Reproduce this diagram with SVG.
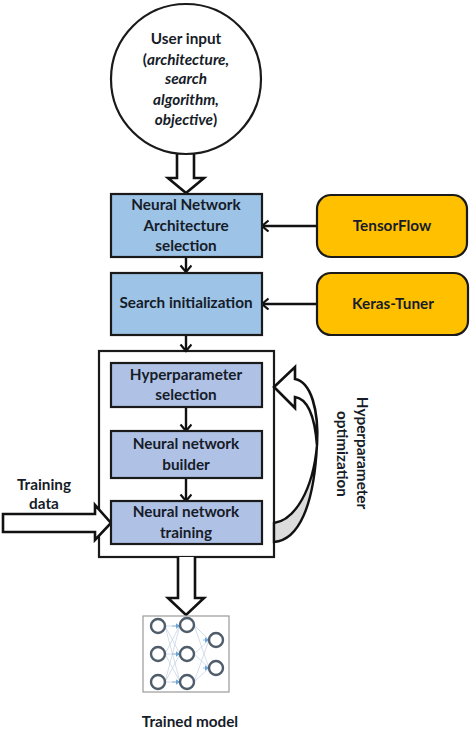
<svg xmlns="http://www.w3.org/2000/svg" width="474" height="737" viewBox="0 0 474 737">
<style>
text{font-family:"Lato","Liberation Sans",sans-serif;font-weight:700;font-size:15.3px;fill:#161c28;text-anchor:middle}
.i{font-style:italic}
.b{stroke:#1a1a1a;stroke-width:2.2}
.a{fill:#9dc3e6}
.h{fill:#b0c1e6}
.y{fill:#ffc000;stroke:#1a1a1a;stroke-width:2.2}
.l{fill:none;stroke:#111;stroke-width:2.4}
.e{fill:#fff;stroke:#111;stroke-width:2.6}
.n{fill:none;stroke:#4f5d6b;stroke-width:2.4}
.w{fill:none;stroke:#c9d6e6;stroke-width:.8}
</style>
<defs>
<marker id="o" markerWidth="12" markerHeight="14" refX="9.5" refY="6" orient="auto" markerUnits="userSpaceOnUse"><path d="M3,0.5L9.5,6L3,11.5" fill="none" stroke="#111" stroke-width="2.2"/></marker>
<marker id="s" markerWidth="5" markerHeight="7" refX="4.5" refY="3" orient="auto" markerUnits="userSpaceOnUse"><path d="M0,0L4.5,3L0,6Z" fill="#6ea6d8"/></marker>
</defs>
<rect width="474" height="737" fill="#fff"/>
<g id="outer-frame"><rect x="99" y="351" width="175" height="206" fill="#fff" stroke="#1a1a1a" stroke-width="2.2"/></g>
<g id="connectors">
<path class="e" d="M177,153V178H168L186,193L204,178H194V153"/>
<path class="e" d="M178,557V598H168L186,615L204,598H195V557"/>
<path class="e" d="M3,514H95V505L111,523L95,540V532H3Z"/>
<path d="M317,445C313,490 295,520 274,523V542C299,540 314,505 317,445Z" fill="#dcdcdc" stroke="#111" stroke-width="2.4"/>
<path d="M274,387L295,367V379C311,382 319,410 317,445C315,420 309,399 295,397V408Z" fill="#fff" stroke="#111" stroke-width="2.6" stroke-linejoin="miter"/>
<path class="l" marker-end="url(#o)" d="M186,257V272"/>
<path class="l" marker-end="url(#o)" d="M317,226H262"/>
<path class="l" stroke-width="2" marker-end="url(#o)" d="M317,304H262"/>
<path class="l" marker-end="url(#o)" d="M186,335V351"/>
<path class="l" marker-end="url(#o)" d="M186,407V431"/>
<path class="l" marker-end="url(#o)" d="M186,478V501"/>
</g>
<g id="user-input"><circle cx="186" cy="79" r="75" fill="#fff" stroke="#1a1a1a" stroke-width="2.2"/>
<text x="186" y="44">User input</text>
<text x="186" y="65">(<tspan class="i">architecture,</tspan></text>
<text x="186" y="84" class="i">search</text>
<text x="186" y="105" class="i">algorithm,</text>
<text x="186" y="125"><tspan class="i">objective</tspan>)</text></g>
<g id="nn-architecture"><rect class="b a" x="111" y="194" width="151" height="63"/>
<text x="186" y="210">Neural Network</text><text x="186" y="231">Architecture</text><text x="186" y="251">selection</text></g>
<g id="search-init"><rect class="b a" x="111" y="273" width="151" height="62"/>
<text x="186" y="308">Search initialization</text></g>
<g id="tensorflow"><rect class="y" x="317" y="195" width="150" height="62" rx="14"/><text x="392" y="231">TensorFlow</text></g>
<g id="keras-tuner"><rect class="y" x="317" y="273" width="151" height="62" rx="14"/><text x="393" y="309">Keras-Tuner</text></g>
<g id="hp-selection"><rect class="b h" x="111" y="363" width="151" height="44"/>
<text x="186" y="380">Hyperparameter</text><text x="186" y="400">selection</text></g>
<g id="nn-builder"><rect class="b h" x="111" y="431" width="151" height="47"/>
<text x="186" y="449">Neural network</text><text x="186" y="470">builder</text></g>
<g id="nn-training"><rect class="b h" x="111" y="501" width="151" height="43"/>
<text x="186" y="517">Neural network</text><text x="186" y="538">training</text></g>
<g id="training-data"><text x="44" y="490">Training</text><text x="44" y="509">data</text></g>
<g id="hp-optimization"><text transform="translate(357,453) rotate(90)">Hyperparameter</text><text transform="translate(337,454) rotate(90)">optimization</text></g>
<g id="trained-model">
<rect x="143" y="616" width="86" height="76" fill="#fff" stroke="#9a9a9a" stroke-width="1.2"/>
<path class="w" d="M165,626H179M165,654L180,625M165,682L180,625M165,626L180,654M165,654H180M165,682L180,654M165,626L180,682M165,654L180,682M165,682H179M194,625L209,640M194,654L209,640M194,682L209,640M194,625L209,668M194,654L209,668M194,682L209,668"/>
<path fill="none" stroke="#6ea6d8" stroke-width=".8" marker-end="url(#s)" d="M172,626H180"/>
<path fill="none" stroke="#6ea6d8" stroke-width=".8" marker-end="url(#s)" d="M172,654H180"/>
<path fill="none" stroke="#6ea6d8" stroke-width=".8" marker-end="url(#s)" d="M172,682H180"/>
<path fill="none" stroke="#6ea6d8" stroke-width=".8" marker-end="url(#s)" d="M203,640H209"/>
<path fill="none" stroke="#6ea6d8" stroke-width=".8" marker-end="url(#s)" d="M203,668H209"/>
<circle class="n" cx="158" cy="626" r="7"/><circle class="n" cx="158" cy="654" r="7"/><circle class="n" cx="158" cy="682" r="7"/>
<circle class="n" cx="187" cy="625" r="7"/><circle class="n" cx="187" cy="654" r="7"/><circle class="n" cx="187" cy="682" r="7"/>
<circle class="n" cx="216" cy="640" r="7"/><circle class="n" cx="216" cy="668" r="7"/>
<text x="190" y="727">Trained model</text></g>
</svg>
